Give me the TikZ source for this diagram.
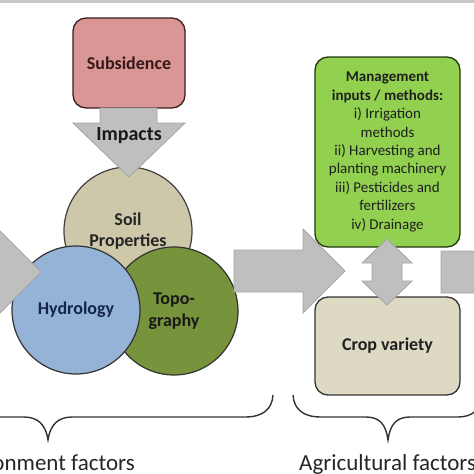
\documentclass[tikz,border=0pt]{standalone}
\usepackage{fontspec}
\setmainfont{Carlito}

\definecolor{subsidfill}{HTML}{D99694}
\definecolor{mgmtfill}{HTML}{92D050}
\definecolor{soilfill}{HTML}{CEC8AA}
\definecolor{cropfill}{HTML}{DDD9C3}
\definecolor{hydrofill}{HTML}{95B3D7}
\definecolor{topofill}{HTML}{77933C}
\definecolor{arrowgray}{HTML}{BFBFBF}
\definecolor{arrowedge}{HTML}{A5A5A5}

\tikzset{
    roundbox/.style={draw=black!80, line width=1.3pt, rounded corners=13pt, align=center,
        font=\bfseries\fontsize{18}{21.6}\selectfont},
    bubble/.style={circle, draw=black!80, line width=1.2pt, minimum size=128pt, inner sep=0pt,
        align=center, font=\bfseries\fontsize{18}{21.6}\selectfont},
    fatarrow/.style={fill=arrowgray, draw=arrowedge, line width=0.8pt, line join=miter},
    bracket/.style={draw=black!80, line width=1.4pt},
    factorlabel/.style={font=\fontsize{23}{27}\selectfont, text=black!85, inner sep=0pt}
}

\begin{document}
\begin{tikzpicture}[x=1pt, y=-1pt]
    \useasboundingbox (0,0) rectangle (474,474);
    \clip (0,0) rectangle (474,474);
    \fill[black!22] (0,0) rectangle (474,2.5);

    \node[bubble, fill=soilfill, draw=black!75, text=black!85] (soil) at (128,231) {Soil\\Properties};
    \node[bubble, fill=topofill, draw=black!80, text=black!90] (topo) at (174,311) {Topo-\\graphy};
    \node[bubble, fill=hydrofill, draw=black!80, text={rgb,255:red,20;green,38;blue,72}] (hydro) at (76,310) {Hydrology};

    \node[roundbox, fill=subsidfill, draw={rgb,255:red,60;green,30;blue,30}, text={rgb,255:red,55;green,25;blue,25},
        minimum width=112pt, minimum height=90pt] (subsid) at (129,63) {Subsidence};
    \node[roundbox, fill=mgmtfill, draw={rgb,255:red,35;green,55;blue,15}, text=black!88,
        minimum width=145pt, minimum height=190pt, font=\fontsize{15}{18.4}\selectfont] (mgmt) at (387.5,152)
        {\textbf{Management}\\\textbf{inputs / methods:}\\i) Irrigation\\methods\\ii) Harvesting and\\planting machinery\\iii) Pesticides and\\fertilizers\\iv) Drainage};
    \node[roundbox, fill=cropfill, text=black!88, minimum width=145pt, minimum height=98pt] (crop) at (387.5,346) {Crop variety};

    \draw[fatarrow] (-30,250) -- (-1,250) -- (-1,230) -- (41,272) -- (-1,314) -- (-1,293) -- (-30,293) -- cycle;
    \draw[fatarrow] (234,250) -- (303,250) -- (303,229) -- (345,271) -- (303,313) -- (303,292) -- (234,292) -- cycle;
    \draw[fatarrow] (441,251) -- (510,251) -- (510,230) -- (550,272) -- (510,314) -- (510,293) -- (441,293) -- cycle;
    \draw[fatarrow] (100,108) -- (157,108) -- (157,123) -- (185,123) -- (129,177) -- (73,123) -- (100,123) -- cycle;
    \draw[fatarrow] (387,239) -- (412,263) -- (402,263) -- (402,281) -- (412,281) -- (387,305)
        -- (362,281) -- (372,281) -- (372,263) -- (362,263) -- cycle;
    \node[font=\bfseries\fontsize{20}{24}\selectfont, text=black!90] (impacts) at (129,136) {Impacts};

    \draw[bracket] (273,395) .. controls (272,410) and (262,417) .. (245,417) -- (72,417)
        .. controls (58,417) and (50,425) .. (48,440) .. controls (46,425) and (38,417) .. (24,417) -- (-10,417);
    \draw[bracket] (293,395) .. controls (294,410) and (304,417) .. (321,417) -- (366,417)
        .. controls (380,417) and (386,425) .. (388,440) .. controls (390,425) and (396,417) .. (410,417) -- (458,417)
        .. controls (472,417) and (481,410) .. (482,395);

    \node[factorlabel, anchor=base east] (envlabel) at (135,470) {Environment factors};
    \node[factorlabel, anchor=base west] (agrilabel) at (299,470) {Agricultural factors};
\end{tikzpicture}
\end{document}
